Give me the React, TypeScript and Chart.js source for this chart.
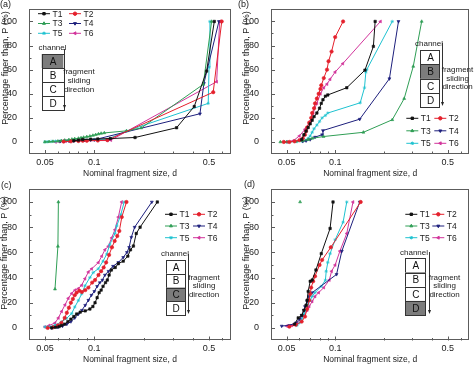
import React, { useEffect, useRef } from 'react';
import { Chart, registerables } from 'chart.js';
import { drawPoint } from 'chart.js/helpers';

Chart.register(...registerables);

type Pt = [number, number];

// ---------- labels / ticks ----------
const seriesNames = ['T1', 'T2', 'T3', 'T4', 'T5', 'T6'];
const channels = ['A', 'B', 'C', 'D'];
const panelLabels = ['(a)', '(b)', '(c)', '(d)'];
const yTickValues = [0, 20, 40, 60, 80, 100];
const yMinorValues = [10, 30, 50, 70, 90];
const xTickValues = [0.05, 0.1, 0.5];
const xTickLabels = ['0.05', '0.1', '0.5'];
const xMinorValues = [0.06, 0.07, 0.08, 0.09, 0.2, 0.3, 0.4, 0.6];
const xRange = [0.04, 0.68];
const yRange = [-10, 110];
const xTitle = 'Nominal fragment size, d';
const yTitle = 'Percentage finer than, P (%)';
const channelTitle = 'channel';
const directionText = ['fragment', 'sliding', 'direction'];

// ---------- panel (a) ----------
const aT1: Pt[] = [[0.075, 1], [0.08, 1.5], [0.085, 2], [0.095, 2.3], [0.105, 2.5], [0.125, 2.8], [0.177, 3.7], [0.317, 11.8], [0.406, 29.4], [0.483, 58.8], [0.538, 100]];
const aT2: Pt[] = [[0.065, 0.3], [0.072, 0.5], [0.08, 0.8], [0.085, 1], [0.09, 1], [0.105, 1.2], [0.12, 1.5], [0.53, 41.3], [0.597, 100]];
const aT3: Pt[] = [[0.05, 0], [0.053, 0.2], [0.056, 0.4], [0.06, 0.6], [0.063, 1], [0.066, 1.4], [0.07, 1.8], [0.073, 2.2], [0.076, 2.6], [0.08, 3], [0.083, 3.4], [0.086, 3.8], [0.09, 4.3], [0.094, 4.8], [0.098, 5.4], [0.102, 6], [0.106, 6.6], [0.11, 7.1], [0.115, 7.5], [0.157, 9.2], [0.193, 11.6], [0.461, 47.8], [0.518, 100]];
const aT4: Pt[] = [[0.062, 0.5], [0.066, 0.7], [0.07, 0.9], [0.075, 1], [0.08, 1.2], [0.087, 1.4], [0.095, 1.6], [0.1, 1.8], [0.44, 23.4], [0.465, 48.6], [0.574, 100]];
const aT5: Pt[] = [[0.05, 0], [0.052, 0.2], [0.055, 0.4], [0.058, 0.6], [0.062, 0.8], [0.066, 1], [0.07, 1.2], [0.075, 1.4], [0.08, 1.6], [0.09, 1.8], [0.1, 2], [0.12, 2.2], [0.157, 9], [0.494, 32], [0.5, 62], [0.506, 100]];
const aT6: Pt[] = [[0.058, 0], [0.061, 0.3], [0.064, 0.5], [0.067, 0.6], [0.07, 0.7], [0.074, 0.9], [0.12, 1.2], [0.126, 1.5], [0.556, 50], [0.58, 100]];

// ---------- panel (b) ----------
const bT1: Pt[] = [[0.062, 2], [0.064, 6], [0.066, 9], [0.068, 12], [0.07, 15], [0.072, 18], [0.074, 21], [0.077, 24], [0.08, 28], [0.082, 32], [0.084, 35], [0.087, 38], [0.09, 39], [0.118, 45], [0.153, 59.6], [0.1726, 79.3], [0.177, 100]];
const bT2: Pt[] = [[0.048, 0], [0.052, 0], [0.056, 0.5], [0.06, 1.5], [0.063, 3], [0.065, 6], [0.066, 9], [0.067, 12], [0.069, 16], [0.071, 20], [0.072, 24], [0.074, 28], [0.075, 32], [0.077, 36], [0.079, 40], [0.081, 44], [0.082, 47], [0.085, 53], [0.089, 60], [0.091, 67], [0.095, 75], [0.1, 87], [0.112, 100]];
const bT3: Pt[] = [[0.0457, 0], [0.0502, 0], [0.057, 0.5], [0.063, 1], [0.068, 2], [0.072, 3], [0.0847, 4.5], [0.1496, 8], [0.226, 18.4], [0.268, 36], [0.305, 62.7], [0.344, 100]];
const bT4: Pt[] = [[0.063, 0.5], [0.066, 1], [0.07, 2], [0.075, 4], [0.083, 6], [0.084, 9.5], [0.142, 18.9], [0.217, 52.5], [0.247, 100]];
const bT5: Pt[] = [[0.05, 0], [0.058, 0.3], [0.062, 0.7], [0.066, 1.5], [0.068, 3], [0.07, 5], [0.072, 8], [0.074, 11], [0.077, 14], [0.08, 17], [0.083, 20], [0.087, 22], [0.09, 24], [0.143, 32.5], [0.152, 45], [0.155, 58], [0.157, 60], [0.226, 100]];
const bT6: Pt[] = [[0.05, 0], [0.055, 1], [0.06, 5], [0.065, 10.5], [0.07, 17], [0.073, 24], [0.077, 32], [0.081, 40], [0.085, 45], [0.089, 48], [0.093, 52], [0.1, 58], [0.1115, 65], [0.191, 100]];

// ---------- panel (c) ----------
const cT1: Pt[] = [[0.055, 0], [0.058, 0.5], [0.061, 1], [0.063, 2], [0.066, 3], [0.069, 5], [0.072, 7], [0.075, 9], [0.078, 11], [0.082, 12.5], [0.088, 13.5], [0.094, 15], [0.098, 17], [0.101, 20], [0.104, 24], [0.107, 28], [0.11, 30], [0.113, 33], [0.117, 36], [0.12, 38], [0.123, 42], [0.127, 46], [0.134, 48], [0.14, 51], [0.15, 53], [0.16, 57], [0.166, 62], [0.173, 65], [0.18, 75], [0.19, 80], [0.242, 100]];
const cT2: Pt[] = [[0.052, 0], [0.056, 0.5], [0.06, 2], [0.063, 4], [0.066, 8], [0.068, 12], [0.07, 16], [0.072, 20], [0.074, 23], [0.076, 26], [0.078, 28], [0.081, 29.5], [0.084, 28.5], [0.088, 30], [0.092, 32], [0.097, 36], [0.101, 38], [0.106, 42], [0.11, 45], [0.114, 48], [0.118, 52], [0.123, 58], [0.128, 64], [0.133, 69], [0.138, 73], [0.142, 77], [0.147, 88], [0.157, 100]];
const cT3: Pt[] = [[0.0576, 30.8], [0.06, 64.8], [0.0604, 100]];
const cT4: Pt[] = [[0.055, 0], [0.06, 0.5], [0.064, 1.5], [0.068, 3], [0.072, 5], [0.076, 8], [0.08, 11], [0.084, 14], [0.088, 18], [0.092, 22], [0.096, 26], [0.1, 29], [0.104, 33], [0.108, 36], [0.112, 38], [0.116, 42], [0.122, 45], [0.13, 49], [0.14, 52], [0.15, 56], [0.158, 60], [0.163, 64], [0.168, 72], [0.176, 80], [0.224, 100]];
const cT5: Pt[] = [[0.05, 0.8], [0.0525, 0.8], [0.0576, 2.2], [0.0632, 4.8], [0.0677, 7.5], [0.0728, 11.4], [0.076, 16.6], [0.08, 21.8], [0.0837, 27], [0.0877, 33.5], [0.094, 40], [0.0985, 44], [0.1058, 47], [0.113, 53], [0.119, 58.6], [0.124, 66], [0.1336, 75], [0.137, 81], [0.145, 90], [0.152, 100]];
const cT6: Pt[] = [[0.05, 0.8], [0.053, 1.9], [0.0576, 3.9], [0.0604, 7.9], [0.0632, 13.1], [0.0663, 18.3], [0.0694, 23.5], [0.0728, 27.4], [0.0762, 30], [0.08, 31.3], [0.0837, 33.9], [0.0877, 39.1], [0.092, 44.4], [0.0963, 46.9], [0.1058, 51.9], [0.111, 57], [0.116, 62], [0.1217, 64.8], [0.1275, 71.5], [0.1336, 77.9], [0.14, 88], [0.1467, 100]];

// ---------- panel (d) ----------
const dT1: Pt[] = [[0.056, 3], [0.059, 8], [0.062, 10], [0.064, 14], [0.066, 18], [0.067, 22], [0.068, 29], [0.07, 37], [0.072, 38], [0.076, 46], [0.082, 59], [0.093, 79], [0.097, 100]];
const dT2: Pt[] = [[0.052, 1], [0.057, 2.5], [0.062, 5], [0.065, 9], [0.067, 15], [0.069, 22], [0.07, 27], [0.071, 32], [0.073, 37], [0.075, 41], [0.08, 50], [0.083, 54], [0.094, 64], [0.144, 100]];
const dT3: Pt[] = [[0.0606, 100]];
const dT4: Pt[] = [[0.0466, 1.5], [0.052, 2], [0.057, 4], [0.06, 7], [0.062, 10], [0.064, 14], [0.065, 17], [0.067, 21], [0.069, 25], [0.072, 28], [0.102, 42.5], [0.11, 61], [0.142, 100]];
const dT5: Pt[] = [[0.058, 2], [0.06, 4], [0.062, 7], [0.064, 11], [0.066, 15], [0.068, 19], [0.07, 22], [0.072, 25], [0.075, 28], [0.082, 33], [0.087, 38], [0.088, 45], [0.09, 52], [0.093, 59], [0.1, 70], [0.112, 84], [0.118, 100]];
const dT6: Pt[] = [[0.05, 1.5], [0.054, 2], [0.058, 4], [0.061, 7], [0.064, 10], [0.067, 14], [0.069, 17], [0.072, 21], [0.075, 25], [0.079, 28], [0.085, 32], [0.092, 38], [0.095, 45], [0.1, 50], [0.107, 61], [0.118, 75], [0.129, 100]];

// ---------- styles ----------
const colors = ['#111111', '#e4202c', '#2f9e55', '#1d1f7c', '#1ec2d0', '#d2349b'];
const pointStyles = ['rect', 'circle', 'triangle', 'triangle', 'star', 'triangle'];
const rotations = [0, 0, 0, 180, 0, -90];
const FONT = '"Liberation Sans", Arial, sans-serif';
const frameColor = '#5c5c5c';
const textColor = '#222';

type PanelCfg = {
  series: Pt[][];
  left: number; top: number; w: number; h: number;
  padTop: number; padRight: number; yW: number; xH: number; xTitlePad: number;
  legend: { x: number; y: number; dx: number; dy: number };
  diag: { x: number; y: number; bw: number; bh: number; chanX: number; chanY: number; arrowX: number; arrowTop: number; arrowBot: number; textX: number; textY: number; textDy: number };
  hl: number;
  yTitleX: number; yTitleY: number;
  labelX: number; labelY: number;
};

const panels: PanelCfg[] = [
  {
    series: [aT1, aT2, aT3, aT4, aT5, aT6],
    left: 0, top: 0, w: 237, h: 180, padTop: 1, padRight: 6, yW: 29, xH: 26, xTitlePad: 1.5,
    legend: { x: 38, y: 13.7, dx: 31, dy: 9.8 },
    diag: { x: 41.7, y: 54, bw: 21.6, bh: 14, chanX: 52.5, chanY: 48, arrowX: 64.3, arrowTop: 49, arrowBot: 109, textX: 79, textY: 71.7, textDy: 8.8 },
    hl: 0, yTitleX: 6, yTitleY: 68, labelX: 0, labelY: 5,
  },
  {
    series: [bT1, bT2, bT3, bT4, bT5, bT6],
    left: 237, top: 0, w: 237, h: 180, padTop: 1, padRight: 4, yW: 34, xH: 26, xTitlePad: 1.5,
    legend: { x: 169.3, y: 118.3, dx: 28, dy: 12.5 },
    diag: { x: 183.3, y: 50, bw: 19.4, bh: 14.3, chanX: 192, chanY: 43.3, arrowX: 204.5, arrowTop: 43, arrowBot: 106, textX: 220.5, textY: 70, textDy: 8.5 },
    hl: 1, yTitleX: 10, yTitleY: 68, labelX: 1, labelY: 5,
  },
  {
    series: [cT1, cT2, cT3, cT4, cT5, cT6],
    left: 0, top: 180, w: 237, h: 185, padTop: 7, padRight: 6, yW: 29, xH: 24.5, xTitlePad: 0,
    legend: { x: 165, y: 34.3, dx: 28, dy: 11.7 },
    diag: { x: 166, y: 80, bw: 19, bh: 13.75, chanX: 175, chanY: 74, arrowX: 187.7, arrowTop: 74, arrowBot: 134, textX: 204, textY: 97.7, textDy: 8.3 },
    hl: 2, yTitleX: 5, yTitleY: 73, labelX: 1, labelY: 6,
  },
  {
    series: [dT1, dT2, dT3, dT4, dT5, dT6],
    left: 237, top: 180, w: 237, h: 185, padTop: 7, padRight: 4, yW: 34, xH: 24.5, xTitlePad: 0,
    legend: { x: 168.3, y: 34.3, dx: 27, dy: 11.7 },
    diag: { x: 168.3, y: 78.3, bw: 20, bh: 14.2, chanX: 177, chanY: 72.7, arrowX: 191.5, arrowTop: 72, arrowBot: 134, textX: 207.5, textY: 97.7, textDy: 8.3 },
    hl: 3, yTitleX: 10, yTitleY: 73, labelX: 7, labelY: 5,
  },
];

function makeDecor(cfg: PanelCfg, index: number) {
  return {
    id: 'decor',
    afterDraw(chart: any) {
      const ctx: CanvasRenderingContext2D = chart.ctx;
      const { left, right, top, bottom } = chart.chartArea;
      const xs = chart.scales.x;
      const ys = chart.scales.y;
      ctx.save();
      // frame
      ctx.strokeStyle = frameColor;
      ctx.lineWidth = 1;
      ctx.strokeRect(Math.round(left) + 0.5, Math.round(top) + 0.5, Math.round(right - left) - 1, Math.round(bottom - top) - 1);
      // inward ticks
      ctx.beginPath();
      yTickValues.forEach((v) => { const y = Math.round(ys.getPixelForValue(v)) + 0.5; ctx.moveTo(left, y); ctx.lineTo(left + 4, y); });
      yMinorValues.forEach((v) => { const y = Math.round(ys.getPixelForValue(v)) + 0.5; ctx.moveTo(left, y); ctx.lineTo(left + 2.5, y); });
      xTickValues.forEach((v) => { const x = Math.round(xs.getPixelForValue(v)) + 0.5; ctx.moveTo(x, bottom); ctx.lineTo(x, bottom - 4); });
      xMinorValues.forEach((v) => { const x = Math.round(xs.getPixelForValue(v)) + 0.5; ctx.moveTo(x, bottom); ctx.lineTo(x, bottom - 2.5); });
      ctx.stroke();

      // panel label
      ctx.fillStyle = textColor;
      ctx.font = `9px ${FONT}`;
      ctx.textAlign = 'left';
      ctx.textBaseline = 'middle';
      ctx.fillText(panelLabels[index], cfg.labelX, cfg.labelY);

      // y title
      ctx.save();
      ctx.translate(cfg.yTitleX, cfg.yTitleY);
      ctx.rotate(-Math.PI / 2);
      ctx.textAlign = 'center';
      ctx.font = `9px ${FONT}`;
      ctx.fillText(yTitle, 0, 0);
      ctx.restore();

      // legend
      const L = cfg.legend;
      seriesNames.forEach((name, i) => {
        const col = i % 2;
        const row = Math.floor(i / 2);
        const x0 = L.x + col * L.dx;
        const y0 = L.y + row * L.dy;
        ctx.strokeStyle = colors[i];
        ctx.fillStyle = colors[i];
        ctx.lineWidth = 1;
        ctx.beginPath();
        ctx.moveTo(x0, y0);
        ctx.lineTo(x0 + 12, y0);
        ctx.stroke();
        drawPoint(ctx, { pointStyle: pointStyles[i] as any, rotation: rotations[i], radius: 1.7, borderWidth: 0.6 }, x0 + 6, y0);
        ctx.fillStyle = textColor;
        ctx.font = `8.5px ${FONT}`;
        ctx.textAlign = 'left';
        ctx.textBaseline = 'middle';
        ctx.fillText(name, x0 + 14.5, y0 + 0.5);
      });

      // channel diagram
      const D = cfg.diag;
      ctx.font = `8px ${FONT}`;
      ctx.textAlign = 'center';
      ctx.textBaseline = 'middle';
      ctx.fillStyle = textColor;
      ctx.fillText(channelTitle, D.chanX, D.chanY);
      channels.forEach((c, i) => {
        const by = D.y + i * D.bh;
        ctx.fillStyle = i === cfg.hl ? '#7c7c7c' : '#ffffff';
        ctx.fillRect(D.x, by, D.bw, D.bh);
        ctx.strokeStyle = '#333';
        ctx.lineWidth = 1;
        ctx.strokeRect(Math.round(D.x) + 0.5, Math.round(by) + 0.5, Math.round(D.bw), Math.round(D.bh));
        ctx.fillStyle = '#111';
        ctx.font = `10px ${FONT}`;
        ctx.fillText(c, D.x + D.bw / 2 + 0.5, by + D.bh / 2 + 1);
      });
      // arrow
      ctx.strokeStyle = '#333';
      ctx.beginPath();
      ctx.moveTo(Math.round(D.arrowX) + 0.5, D.arrowTop);
      ctx.lineTo(Math.round(D.arrowX) + 0.5, D.arrowBot - 3);
      ctx.stroke();
      ctx.fillStyle = '#222';
      ctx.beginPath();
      ctx.moveTo(Math.round(D.arrowX) - 1, D.arrowBot - 4);
      ctx.lineTo(Math.round(D.arrowX) + 2, D.arrowBot - 4);
      ctx.lineTo(Math.round(D.arrowX) + 0.5, D.arrowBot);
      ctx.closePath();
      ctx.fill();
      ctx.fillStyle = textColor;
      ctx.font = `8px ${FONT}`;
      directionText.forEach((t, i) => ctx.fillText(t, D.textX, D.textY + i * D.textDy));
      ctx.restore();
    },
  };
}

function Panel({ cfg, index }: { cfg: PanelCfg; index: number }) {
  const ref = useRef<HTMLCanvasElement | null>(null);
  useEffect(() => {
    if (!ref.current) return;
    const chart = new Chart(ref.current, {
      type: 'line',
      data: {
        datasets: cfg.series.map((pts, i) => ({
          label: seriesNames[i],
          data: pts.map(([x, y]) => ({ x, y })),
          borderColor: colors[i],
          backgroundColor: colors[i],
          pointBackgroundColor: colors[i],
          pointBorderColor: colors[i],
          borderWidth: 1,
          pointRadius: 1.7,
          pointBorderWidth: 0.6,
          pointStyle: pointStyles[i] as any,
          rotation: rotations[i],
          tension: 0,
          fill: false,
        })),
      },
      options: {
        responsive: false,
        animation: false,
        devicePixelRatio: 1,
        layout: { padding: { left: 0, top: cfg.padTop, right: cfg.padRight, bottom: 0 } },
        plugins: { legend: { display: false }, tooltip: { enabled: false } },
        scales: {
          x: {
            type: 'logarithmic',
            min: xRange[0],
            max: xRange[1],
            grid: { display: false },
            border: { display: false },
            afterBuildTicks: (s: any) => { s.ticks = xTickValues.map((v) => ({ value: v })); },
            afterFit: (s: any) => { s.height = cfg.xH; },
            ticks: {
              padding: -5,
              color: textColor,
              font: { family: FONT, size: 9 },
              maxRotation: 0,
              autoSkip: false,
              callback: (v: any) => { const k = xTickValues.indexOf(Number(v)); return k >= 0 ? xTickLabels[k] : ''; },
            },
            title: { display: true, text: xTitle, color: textColor, font: { family: FONT, size: 8.5 }, padding: { top: 0, bottom: cfg.xTitlePad } },
          },
          y: {
            type: 'linear',
            min: yRange[0],
            max: yRange[1],
            grid: { display: false },
            border: { display: false },
            afterBuildTicks: (s: any) => { s.ticks = yTickValues.map((v) => ({ value: v })); },
            afterFit: (s: any) => { s.width = cfg.yW; },
            ticks: { padding: 4, color: textColor, font: { family: FONT, size: 9 }, autoSkip: false },
          },
        },
      },
      plugins: [makeDecor(cfg, index)],
    } as any);
    return () => chart.destroy();
  }, [cfg, index]);
  return (
    <canvas
      ref={ref}
      width={cfg.w}
      height={cfg.h}
      style={{ position: 'absolute', left: cfg.left, top: cfg.top, width: cfg.w, height: cfg.h, display: 'block' }}
    />
  );
}

export default function App() {
  return (
    <div style={{ position: 'fixed', left: 0, top: 0, width: 474, height: 365, background: '#ffffff', overflow: 'hidden' }}>
      {panels.map((p, i) => (
        <Panel key={i} cfg={p} index={i} />
      ))}
    </div>
  );
}
